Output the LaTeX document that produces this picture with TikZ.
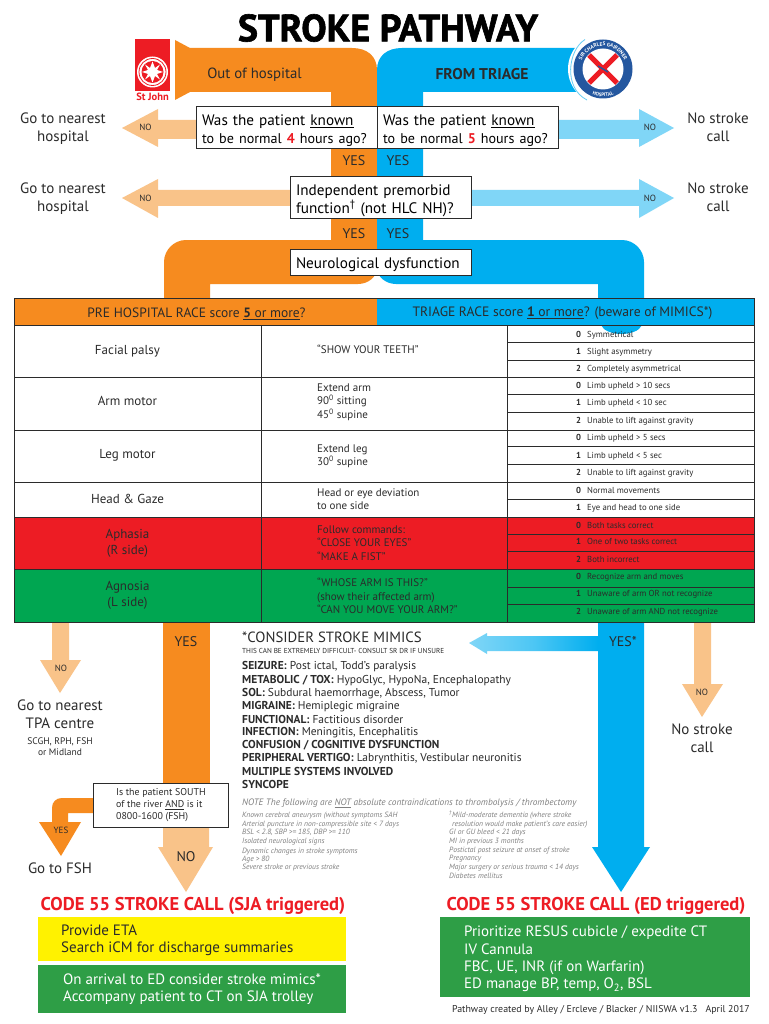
\documentclass[tikz,border=0pt]{standalone}
\usepackage{fontspec}
\setmainfont{PT Sans}
\newfontfamily\titlefont{PT Sans}[BoldFeatures={FakeBold=1.6}]
\usetikzlibrary{positioning, decorations.text}
\definecolor{bandorange}{HTML}{F68B1F}
\definecolor{bandblue}{HTML}{00AEEF}
\definecolor{paleorange}{HTML}{F9C389}
\definecolor{paleblue}{HTML}{80D6F7}
\definecolor{rowred}{HTML}{ED1C24}
\definecolor{rowgreen}{HTML}{00A651}
\definecolor{boxgreen}{HTML}{2E9E46}
\definecolor{boxyellow}{HTML}{FFF200}
\definecolor{inkgrey}{HTML}{2B2B2B}
\definecolor{notegrey}{HTML}{808080}
\definecolor{navy}{HTML}{24579F}
\newcommand{\fs}[2][1.2]{\fontsize{#2}{#1\dimexpr #2pt\relax}\selectfont}
\newcommand{\scoreitem}[2]{\makebox[11pt][l]{\textbf{#1}}#2}
\tikzset{
  label/.style={text=inkgrey, inner sep=0pt, align=center, font=\fs{15}},
  nolabel/.style={text=inkgrey, inner sep=0pt, font=\fs{9}},
  yeslabel/.style={text=inkgrey, inner sep=0pt, font=\fs{14}},
  question/.style={draw=inkgrey, line width=1pt, fill=white, text=black, align=left, inner ysep=0pt, inner xsep=6pt, font=\fs[1.17]{15.2}, execute at begin node={\rule{0pt}{16pt}}},
  rowname/.style={text=inkgrey, inner sep=0pt, align=center, font=\fs[1.22]{13}},
  prompt/.style={text=inkgrey, inner sep=0pt, align=left, anchor=west, font=\fs[1.21]{11}},
  score/.style={text=inkgrey, inner sep=0pt, anchor=base west, yshift=-3pt, font=\fs{8.7}},
  mimic/.style={text=inkgrey, inner sep=0pt, anchor=base west, yshift=-4pt, font=\fs{11.45}},
  note/.style={text=notegrey, inner sep=0pt, anchor=base west, yshift=-2.5pt, font=\itshape\fs{7.6}},
  codecall/.style={text=rowred, inner sep=0pt, font=\bfseries\fs{18.5}},
  action/.style={inner sep=0pt, anchor=west, align=left, font=\fs[1.16]{15}},
  rule/.style={line width=1pt, draw=inkgrey},
}
\begin{document}
\begin{tikzpicture}[x=1pt,y=-1pt]
\useasboundingbox (0,0) rectangle (768,1024);
\fill[white] (0,0) rectangle (768,1024);

\node[inner sep=0pt, font=\titlefont\bfseries\fs{38}] (title) at (388,28) {STROKE PATHWAY};

% the two coloured bands
\fill[bandorange] (175,40) -- (190,48) -- (352,48) .. controls (367,48) and (377,56) .. (377,70)
  -- (377,268) .. controls (377,277) and (368,284) .. (358,284) -- (210,284) -- (210,298) -- (164,298)
  -- (164,262) .. controls (164,250) and (174,240) .. (186,240) -- (331,240) -- (331,92)
  -- (190,92) -- (175,100) -- cycle;
\fill[bandblue] (585,48) -- (402,48) .. controls (387,48) and (377,56) .. (377,70)
  -- (377,268) .. controls (377,277) and (386,284) .. (396,284) -- (598,284) -- (598,298) -- (644,298)
  -- (644,262) .. controls (644,250) and (634,240) .. (622,240) -- (423,240) -- (423,92)
  -- (585,92) -- cycle;

\node[text=inkgrey, inner sep=0pt, font=\fs{14.8}] (outof) at (254.5,75) {Out of hospital};
\node[text=inkgrey, inner sep=0pt, font=\bfseries\fs{15.6}] (fromtriage) at (482,74) {FROM TRIAGE};

% St John badge
\fill[rowred] (135,39) rectangle (170,91);
\fill[white] (152.5,72) circle (15.5);
\draw[rowred, line width=.8pt] (152.5,72) circle (13.5);
\fill[rowred] (152.5,72) circle (11);
\fill[white] (152.5,61.5) -- (155,68) -- (160,64.5) -- (157,70) -- (163,72) -- (157,74) -- (160,79.5) -- (155,76)
  -- (152.5,82.5) -- (150,76) -- (145,79.5) -- (148,74) -- (142,72) -- (148,70) -- (145,64.5) -- (150,68) -- cycle;
\node[text=rowred, inner sep=0pt, font=\bfseries\fs{10.5}] (stjohn) at (152.5,97) {St John};

% hospital badge
\fill[white] (603,69) circle (35);
\draw[bandblue!60, line width=.8pt] (585,39.5) .. controls (568,50) and (563,88) .. (587,100);
\fill[navy] (603,69) circle (29.5);
\fill[white] (603,69) circle (20.5);
\draw[rowred, line width=5pt] (589,55) -- (617,83) (617,55) -- (589,83);
\draw[navy, line width=1.4pt] (598,66) -- (608,72);
\path[decorate, decoration={text along path, text align=center,
  text={|\bfseries\fontsize{5.2}{6}\selectfont\color{white}|SIR CHARLES GAIRDNER}}] (581.4,76.9) arc[start angle=160, end angle=380, radius=23];
\path[decorate, decoration={text along path, text align=center,
  text={|\bfseries\fontsize{5}{6}\selectfont\color{white}|HOSPITAL}}] (581.6,87) arc[start angle=140, end angle=40, radius=28];

% no arrows
\fill[paleorange] (196,120) -- (158,120) -- (158,109) -- (122,128) -- (158,147) -- (158,139) -- (196,139) -- cycle;
\fill[paleorange] (290,190) -- (158,190) -- (158,179) -- (122,198) -- (158,218) -- (158,206) -- (290,206) -- cycle;
\fill[paleblue] (558,120) -- (639,120) -- (639,109) -- (674,128) -- (639,147) -- (639,139) -- (558,139) -- cycle;
\fill[paleblue] (471,190) -- (639,190) -- (639,179) -- (674,198) -- (639,218) -- (639,206) -- (471,206) -- cycle;
\node[nolabel] (no1) at (145.5,127) {NO};
\node[nolabel] (no2) at (145.5,198) {NO};
\node[nolabel] (no3) at (650,127) {NO};
\node[nolabel] (no4) at (650,198) {NO};

\node[label] (goto1) at (63,128.5) {Go to nearest\\hospital};
\node[label] (goto2) at (63,198.5) {Go to nearest\\hospital};
\node[label] (nocall1) at (718,127) {No stroke\\call};
\node[label] (nocall2) at (718,197) {No stroke\\call};

% questions
\node[question, text width=169pt, minimum height=42pt] (q4h) at (286.5,128) {Was the patient \underline{known}\\{\fs[1.17]{14.1}to be normal {\color{rowred}\textbf{4}} hours ago?}};
\node[question, text width=169pt, minimum height=42pt] (q5h) at (467.5,128) {Was the patient \underline{known}\\{\fs[1.17]{14.1}to be normal {\color{rowred}\textbf{5}} hours ago?}};
\node[question, text width=169pt, minimum height=42pt] (premorbid) at (380.5,198) {Independent premorbid\\function\textsuperscript{†} (not HLC NH)?};
\node[question, text width=169pt, minimum height=26pt] (neuro) at (380.5,262) {Neurological dysfunction};

\node[yeslabel] (yes1) at (354,161) {YES};
\node[yeslabel] (yes2) at (398,161) {YES};
\node[yeslabel] (yes3) at (354,234) {YES};
\node[yeslabel] (yes4) at (398,234) {YES};

% race table
\fill[white] (14.5,325) rectangle (754,517);
\fill[bandblue] (601,325) .. controls (606,337) and (637,337) .. (642,325) -- cycle;
\fill[rowred] (14.5,517) rectangle (754,569);
\fill[rowgreen] (14.5,569) rectangle (754,622);
\fill[bandorange] (14,298) rectangle (377,325);
\fill[bandblue] (377,298) rectangle (754,325);
\draw[rule] (14,298) rectangle (754,622);
\draw[rule] (14,325) -- (754,325) (14,377) -- (754,377) (14,430) -- (754,430) (14,482) -- (754,482)
  (14,517) -- (754,517) (14,569) -- (754,569);
\draw[rule] (261,325) -- (261,622) (507,325) -- (507,622);
\draw[rule] (507,342) -- (754,342) (507,360) -- (754,360)
  (507,394) -- (754,394) (507,412) -- (754,412)
  (507,446) -- (754,446) (507,464) -- (754,464)
  (507,499) -- (754,499)
  (507,534) -- (754,534) (507,551) -- (754,551)
  (507,587) -- (754,587) (507,604) -- (754,604);

\node[text=inkgrey, inner sep=0pt, font=\fs{13.5}] (prehead) at (196.5,313.5) {PRE HOSPITAL RACE score \underline{\textbf{5} or more}?};
\node[text=inkgrey, inner sep=0pt, font=\fs{13.6}] (triagehead) at (562.5,313.5) {TRIAGE RACE score \underline{\textbf{1} or more}? (beware of MIMICS*)};

\node[rowname] (facial) at (127.5,351.5) {Facial palsy};
\node[rowname] (armm) at (127.5,400.5) {Arm motor};
\node[rowname] (legm) at (127.5,455.5) {Leg motor};
\node[rowname] (gaze) at (127.5,499) {Head \& Gaze};
\node[rowname] (aphasia) at (127.5,543.5) {Aphasia\\(R side)};
\node[rowname] (agnosia) at (127.5,595.5) {Agnosia\\(L side)};

\node[prompt] (teeth) at (317,349.5) {“SHOW YOUR TEETH”};
\node[prompt] (armp) at (317,402) {Extend arm\\90\textsuperscript{0} sitting\\45\textsuperscript{0} supine};
\node[prompt] (legp) at (317,456) {Extend leg\\30\textsuperscript{0} supine};
\node[prompt] (gazep) at (317,499.5) {Head or eye deviation\\to one side};
\node[prompt] (aphasiap) at (317,543) {Follow commands:\\“CLOSE YOUR EYES”\\“MAKE A FIST”};
\node[prompt] (agnosiap) at (317,596) {“WHOSE ARM IS THIS?”\\(show their affected arm)\\“CAN YOU MOVE YOUR ARM?”};

\node[score] (s10) at (576,334) {\scoreitem{0}{Symmetrical}};
\node[score] (s11) at (576,351) {\scoreitem{1}{Slight asymmetry}};
\node[score] (s12) at (576,368) {\scoreitem{2}{Completely asymmetrical}};
\node[score] (s20) at (576,385) {\scoreitem{0}{Limb upheld > 10 secs}};
\node[score] (s21) at (576,402) {\scoreitem{1}{Limb upheld < 10 sec}};
\node[score] (s22) at (576,420) {\scoreitem{2}{Unable to lift against gravity}};
\node[score] (s30) at (576,437) {\scoreitem{0}{Limb upheld > 5 secs}};
\node[score] (s31) at (576,455) {\scoreitem{1}{Limb upheld < 5 sec}};
\node[score] (s32) at (576,472) {\scoreitem{2}{Unable to lift against gravity}};
\node[score] (s40) at (576,490) {\scoreitem{0}{Normal movements}};
\node[score] (s41) at (576,507) {\scoreitem{1}{Eye and head to one side}};
\node[score] (s50) at (576,525) {\scoreitem{0}{Both tasks correct}};
\node[score] (s51) at (576,541) {\scoreitem{1}{One of two tasks correct}};
\node[score] (s52) at (576,559) {\scoreitem{2}{Both incorrect}};
\node[score] (s60) at (576,576) {\scoreitem{0}{Recognize arm and moves}};
\node[score] (s61) at (576,593) {\scoreitem{1}{Unaware of arm OR not recognize}};
\node[score] (s62) at (576,611) {\scoreitem{2}{Unaware of arm AND not recognize}};

% arrows below the table
\fill[paleorange] (52,623) -- (69,623) -- (69,660) -- (81,660) -- (60,693) -- (40,660) -- (52,660) -- cycle;
\node[nolabel] (no5) at (61,668) {NO};
\node[label] (tpa) at (60,714) {Go to nearest\\TPA centre};
\node[text=inkgrey, inner sep=0pt, align=center, font={\fs[1.18]{9.5}}] (tpalist) at (60,747) {SCGH, RPH, FSH\\or Midland};

\fill[bandorange] (163,623) rectangle (210,790);
\fill[paleorange] (163,783) -- (209,783) -- (209,847) -- (213,847) -- (186,892) -- (158,847) -- (163,847) -- cycle;
\node[yeslabel] (yes5) at (186,642) {YES};
\node[text=inkgrey, inner sep=0pt, font=\fs{14}] (no6) at (186,857) {NO};

\fill[bandorange] (100,798) -- (62,798) .. controls (56,798) and (52,802) .. (52,808) -- (52,822) -- (39,822) -- (61,856) -- (81,822) -- (68,822) -- (68,813) -- (100,813) -- cycle;
\node[nolabel] (yes6) at (61,830) {YES};
\node[label] (fsh) at (60,868) {Go to FSH};
\node[draw=inkgrey, line width=1pt, fill=white, minimum width=135pt, minimum height=44pt, inner sep=0pt] (southbox) at (160.5,805) {};
\node[text=inkgrey, inner sep=0pt, align=left, anchor=west, font={\fs[1.18]{9.9}}] (south) at (116,805) {Is the patient SOUTH\\of the river \underline{AND} is it\\0800-1600 (FSH)};

\fill[bandblue] (598,623) -- (644,623) -- (644,847) -- (650,847) -- (621,892) -- (592,847) -- (598,847) -- cycle;
\shade[left color=paleblue, right color=bandblue, middle color=bandblue!70] (469,643) -- (487,633) -- (487,636) -- (598,636) -- (598,651) -- (487,651) -- (487,654) -- cycle;
\node[text=inkgrey, inner sep=0pt, font=\fs{14}] (yes7) at (623,642) {YES*};

\fill[paleorange] (694,623) -- (711,623) -- (711,684) -- (723,684) -- (702,717) -- (682,684) -- (694,684) -- cycle;
\node[nolabel] (no7) at (702,692) {NO};
\node[label] (nocall3) at (702,738) {No stroke\\call};

% mimics
\node[text=inkgrey, inner sep=0pt, anchor=west, font=\fs{14.8}] (mimichead) at (242,637) {*CONSIDER STROKE MIMICS};
\node[text=inkgrey, inner sep=0pt, anchor=west, font=\fs{7.2}] (mimicsub) at (242,651) {THIS CAN BE EXTREMELY DIFFICULT- CONSULT SR DR IF UNSURE};
\node[mimic] (m1) at (242,665.7) {\textbf{SEIZURE:} Post ictal, Todd’s paralysis};
\node[mimic] (m2) at (242,679) {\textbf{METABOLIC / TOX:} HypoGlyc, HypoNa, Encephalopathy};
\node[mimic] (m3) at (242,692) {\textbf{SOL:} Subdural haemorrhage, Abscess, Tumor};
\node[mimic] (m4) at (242,705.7) {\textbf{MIGRAINE:} Hemiplegic migraine};
\node[mimic] (m5) at (242,719) {\textbf{FUNCTIONAL:} Factitious disorder};
\node[mimic] (m6) at (242,731) {\textbf{INFECTION:} Meningitis, Encephalitis};
\node[mimic] (m7) at (242,744) {\textbf{CONFUSION / COGNITIVE DYSFUNCTION}};
\node[mimic] (m8) at (242,757.7) {\textbf{PERIPHERAL VERTIGO:} Labrynthitis, Vestibular neuronitis};
\node[mimic] (m9) at (242,771) {\textbf{MULTIPLE SYSTEMS INVOLVED}};
\node[mimic] (m10) at (242,784) {\textbf{SYNCOPE}};

\node[note, font=\itshape\fs{9.3}] (nhead) at (242,803) {NOTE The following are \underline{NOT} absolute contraindications to thrombolysis / thrombectomy};
\node[note] (n1) at (242,815) {Known cerebral aneurysm (without symptoms SAH};
\node[note] (n2) at (242,824) {Arterial puncture in non-compressible site < 7 days};
\node[note] (n3) at (242,832) {BSL < 2.8, SBP >= 185, DBP >= 110};
\node[note] (n4) at (242,841) {Isolated neurological signs};
\node[note] (n5) at (242,851) {Dynamic changes in stroke symptoms};
\node[note] (n6) at (242,859) {Age > 80};
\node[note] (n7) at (242,867) {Severe stroke or previous stroke};
\node[note] (n8) at (449,815) {\textsuperscript{†}Mild-moderate dementia (where stroke};
\node[note] (n9) at (452,824) {resolution would make patient’s care easier)};
\node[note] (n10) at (449,832) {GI or GU bleed < 21 days};
\node[note] (n11) at (449,841) {MI in previous 3 months};
\node[note] (n12) at (449,850) {Postictal post seizure at onset of stroke};
\node[note] (n13) at (449,858) {Pregnancy};
\node[note] (n14) at (449,867) {Major surgery or serious trauma < 14 days};
\node[note] (n15) at (449,876) {Diabetes mellitus};

% code 55
\node[codecall] (sjacall) at (193,905.5) {CODE 55 STROKE CALL (SJA triggered)};
\node[codecall] (edcall) at (596,905.5) {CODE 55 STROKE CALL (ED triggered)};
\fill[boxyellow] (37.5,917) rectangle (346,961);
\fill[boxgreen] (37.5,965) rectangle (346,1013);
\fill[boxgreen] (440,917) rectangle (750,997);
\node[action, text=inkgrey] (sja1) at (61,940) {Provide ETA\\Search iCM for discharge summaries};
\node[action, text=white] (sja2) at (63,989) {On arrival to ED consider stroke mimics*\\Accompany patient to CT on SJA trolley};
\node[action, text=white] (ed1) at (464,959) {Prioritize RESUS cubicle / expedite CT\\IV Cannula\\FBC, UE, INR (if on Warfarin)\\ED manage BP, temp, O\textsubscript{2}, BSL};
\node[text=inkgrey, inner sep=0pt, anchor=east, font=\fs{9.9}] (credit) at (750,1009.5) {Pathway created by Alley / Ercleve / Blacker / NIISWA v1.3 \ \ April 2017};
\end{tikzpicture}
\end{document}
